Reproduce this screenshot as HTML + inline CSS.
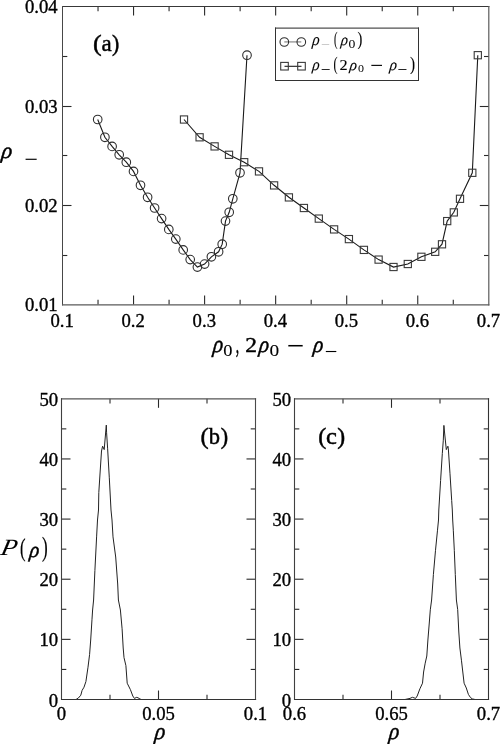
<!DOCTYPE html>
<html><head><meta charset="utf-8"><title>plot</title>
<style>
html,body{margin:0;padding:0;background:#fff;}
body{width:500px;height:744px;overflow:hidden;}
svg{display:block;}
text{font-family:"Liberation Serif",serif;}
.t{font-size:18.7px;fill:#000;stroke:#000;stroke-width:0.35px;}
</style></head><body>
<svg width="500" height="744" viewBox="0 0 500 744">
<rect x="0" y="0" width="500" height="744" fill="#fff"/>
<line x1="98.03" y1="304.6" x2="98.03" y2="299.8" stroke="#2a2a2a" stroke-width="1.1"/><line x1="98.03" y1="6.5" x2="98.03" y2="11.3" stroke="#2a2a2a" stroke-width="1.1"/>
<line x1="133.55" y1="304.6" x2="133.55" y2="295.6" stroke="#2a2a2a" stroke-width="1.1"/><line x1="133.55" y1="6.5" x2="133.55" y2="15.5" stroke="#2a2a2a" stroke-width="1.1"/>
<line x1="169.07" y1="304.6" x2="169.07" y2="299.8" stroke="#2a2a2a" stroke-width="1.1"/><line x1="169.07" y1="6.5" x2="169.07" y2="11.3" stroke="#2a2a2a" stroke-width="1.1"/>
<line x1="204.60" y1="304.6" x2="204.60" y2="295.6" stroke="#2a2a2a" stroke-width="1.1"/><line x1="204.60" y1="6.5" x2="204.60" y2="15.5" stroke="#2a2a2a" stroke-width="1.1"/>
<line x1="240.12" y1="304.6" x2="240.12" y2="299.8" stroke="#2a2a2a" stroke-width="1.1"/><line x1="240.12" y1="6.5" x2="240.12" y2="11.3" stroke="#2a2a2a" stroke-width="1.1"/>
<line x1="275.65" y1="304.6" x2="275.65" y2="295.6" stroke="#2a2a2a" stroke-width="1.1"/><line x1="275.65" y1="6.5" x2="275.65" y2="15.5" stroke="#2a2a2a" stroke-width="1.1"/>
<line x1="311.18" y1="304.6" x2="311.18" y2="299.8" stroke="#2a2a2a" stroke-width="1.1"/><line x1="311.18" y1="6.5" x2="311.18" y2="11.3" stroke="#2a2a2a" stroke-width="1.1"/>
<line x1="346.70" y1="304.6" x2="346.70" y2="295.6" stroke="#2a2a2a" stroke-width="1.1"/><line x1="346.70" y1="6.5" x2="346.70" y2="15.5" stroke="#2a2a2a" stroke-width="1.1"/>
<line x1="382.23" y1="304.6" x2="382.23" y2="299.8" stroke="#2a2a2a" stroke-width="1.1"/><line x1="382.23" y1="6.5" x2="382.23" y2="11.3" stroke="#2a2a2a" stroke-width="1.1"/>
<line x1="417.75" y1="304.6" x2="417.75" y2="295.6" stroke="#2a2a2a" stroke-width="1.1"/><line x1="417.75" y1="6.5" x2="417.75" y2="15.5" stroke="#2a2a2a" stroke-width="1.1"/>
<line x1="453.28" y1="304.6" x2="453.28" y2="299.8" stroke="#2a2a2a" stroke-width="1.1"/><line x1="453.28" y1="6.5" x2="453.28" y2="11.3" stroke="#2a2a2a" stroke-width="1.1"/>
<line x1="62.5" y1="255.5" x2="67.3" y2="255.5" stroke="#2a2a2a" stroke-width="1.1"/><line x1="488.8" y1="255.5" x2="484.0" y2="255.5" stroke="#2a2a2a" stroke-width="1.1"/>
<line x1="62.5" y1="205.5" x2="71.5" y2="205.5" stroke="#2a2a2a" stroke-width="1.1"/><line x1="488.8" y1="205.5" x2="479.8" y2="205.5" stroke="#2a2a2a" stroke-width="1.1"/>
<line x1="62.5" y1="155.5" x2="67.3" y2="155.5" stroke="#2a2a2a" stroke-width="1.1"/><line x1="488.8" y1="155.5" x2="484.0" y2="155.5" stroke="#2a2a2a" stroke-width="1.1"/>
<line x1="62.5" y1="106.5" x2="71.5" y2="106.5" stroke="#2a2a2a" stroke-width="1.1"/><line x1="488.8" y1="106.5" x2="479.8" y2="106.5" stroke="#2a2a2a" stroke-width="1.1"/>
<line x1="62.5" y1="56.5" x2="67.3" y2="56.5" stroke="#2a2a2a" stroke-width="1.1"/><line x1="488.8" y1="56.5" x2="484.0" y2="56.5" stroke="#2a2a2a" stroke-width="1.1"/>
<line x1="62" y1="6.5" x2="489.4" y2="6.5" stroke="#383838" stroke-width="1.0"/>
<line x1="62.5" y1="6" x2="62.5" y2="305.4" stroke="#474747" stroke-width="1.0"/>
<line x1="488.8" y1="6" x2="488.8" y2="305.4" stroke="#5a5a5a" stroke-width="1.2"/>
<line x1="62" y1="304.9" x2="489.4" y2="304.9" stroke="#5a5a5a" stroke-width="1.3"/>
<text class="t" x="62.2" y="326.6" text-anchor="middle">0.1</text>
<text class="t" x="133.2" y="326.6" text-anchor="middle">0.2</text>
<text class="t" x="204.3" y="326.6" text-anchor="middle">0.3</text>
<text class="t" x="275.4" y="326.6" text-anchor="middle">0.4</text>
<text class="t" x="346.4" y="326.6" text-anchor="middle">0.5</text>
<text class="t" x="417.4" y="326.6" text-anchor="middle">0.6</text>
<text class="t" x="488.5" y="326.6" text-anchor="middle">0.7</text>
<text class="t" x="57.6" y="310.8" text-anchor="end">0.01</text>
<text class="t" x="57.6" y="211.7" text-anchor="end">0.02</text>
<text class="t" x="57.6" y="112.7" text-anchor="end">0.03</text>
<text class="t" x="57.6" y="12.7" text-anchor="end">0.04</text>
<polyline points="97.7,119.5 104.9,137.3 112.1,146.4 119.2,154.8 126.3,162.2 133.5,171.4 140.5,185.3 147.6,197.3 154.6,208.0 161.6,218.6 168.8,229.4 175.8,239.1 183.2,249.9 190.2,259.6 197.4,267.1 204.6,264.1 211.4,256.8 218.6,251.8 222.2,244.2 225.5,221.1 229.2,212.3 232.8,198.8 240.0,172.8 247.0,55.2" fill="none" stroke="#1a1a1a" stroke-width="1.1"/>
<polyline points="184.0,119.5 199.6,137.3 214.6,146.4 229.0,154.8 244.2,162.2 259.0,171.4 274.1,185.3 288.9,197.3 303.9,208.0 318.8,218.6 334.1,229.4 348.9,239.1 363.9,249.9 378.6,259.6 393.5,267.1 407.8,264.1 421.4,256.8 435.2,251.8 442.0,244.2 447.2,221.1 453.8,212.3 460.0,198.8 472.3,172.8 477.8,55.2" fill="none" stroke="#1a1a1a" stroke-width="1.1"/>
<circle cx="97.7" cy="119.5" r="4.3" fill="none" stroke="#2e2e2e" stroke-width="1.1"/><circle cx="104.9" cy="137.3" r="4.3" fill="none" stroke="#2e2e2e" stroke-width="1.1"/><circle cx="112.1" cy="146.4" r="4.3" fill="none" stroke="#2e2e2e" stroke-width="1.1"/><circle cx="119.2" cy="154.8" r="4.3" fill="none" stroke="#2e2e2e" stroke-width="1.1"/><circle cx="126.3" cy="162.2" r="4.3" fill="none" stroke="#2e2e2e" stroke-width="1.1"/><circle cx="133.5" cy="171.4" r="4.3" fill="none" stroke="#2e2e2e" stroke-width="1.1"/><circle cx="140.5" cy="185.3" r="4.3" fill="none" stroke="#2e2e2e" stroke-width="1.1"/><circle cx="147.6" cy="197.3" r="4.3" fill="none" stroke="#2e2e2e" stroke-width="1.1"/><circle cx="154.6" cy="208.0" r="4.3" fill="none" stroke="#2e2e2e" stroke-width="1.1"/><circle cx="161.6" cy="218.6" r="4.3" fill="none" stroke="#2e2e2e" stroke-width="1.1"/><circle cx="168.8" cy="229.4" r="4.3" fill="none" stroke="#2e2e2e" stroke-width="1.1"/><circle cx="175.8" cy="239.1" r="4.3" fill="none" stroke="#2e2e2e" stroke-width="1.1"/><circle cx="183.2" cy="249.9" r="4.3" fill="none" stroke="#2e2e2e" stroke-width="1.1"/><circle cx="190.2" cy="259.6" r="4.3" fill="none" stroke="#2e2e2e" stroke-width="1.1"/><circle cx="197.4" cy="267.1" r="4.3" fill="none" stroke="#2e2e2e" stroke-width="1.1"/><circle cx="204.6" cy="264.1" r="4.3" fill="none" stroke="#2e2e2e" stroke-width="1.1"/><circle cx="211.4" cy="256.8" r="4.3" fill="none" stroke="#2e2e2e" stroke-width="1.1"/><circle cx="218.6" cy="251.8" r="4.3" fill="none" stroke="#2e2e2e" stroke-width="1.1"/><circle cx="222.2" cy="244.2" r="4.3" fill="none" stroke="#2e2e2e" stroke-width="1.1"/><circle cx="225.5" cy="221.1" r="4.3" fill="none" stroke="#2e2e2e" stroke-width="1.1"/><circle cx="229.2" cy="212.3" r="4.3" fill="none" stroke="#2e2e2e" stroke-width="1.1"/><circle cx="232.8" cy="198.8" r="4.3" fill="none" stroke="#2e2e2e" stroke-width="1.1"/><circle cx="240.0" cy="172.8" r="4.3" fill="none" stroke="#2e2e2e" stroke-width="1.1"/><circle cx="247.0" cy="55.2" r="4.3" fill="none" stroke="#2e2e2e" stroke-width="1.1"/>
<rect x="180.4" y="115.9" width="7.2" height="7.2" fill="none" stroke="#3a3a3a" stroke-width="1.1"/><rect x="196.0" y="133.7" width="7.2" height="7.2" fill="none" stroke="#3a3a3a" stroke-width="1.1"/><rect x="211.0" y="142.8" width="7.2" height="7.2" fill="none" stroke="#3a3a3a" stroke-width="1.1"/><rect x="225.4" y="151.2" width="7.2" height="7.2" fill="none" stroke="#3a3a3a" stroke-width="1.1"/><rect x="240.6" y="158.6" width="7.2" height="7.2" fill="none" stroke="#3a3a3a" stroke-width="1.1"/><rect x="255.4" y="167.8" width="7.2" height="7.2" fill="none" stroke="#3a3a3a" stroke-width="1.1"/><rect x="270.5" y="181.8" width="7.2" height="7.2" fill="none" stroke="#3a3a3a" stroke-width="1.1"/><rect x="285.29999999999995" y="193.8" width="7.2" height="7.2" fill="none" stroke="#3a3a3a" stroke-width="1.1"/><rect x="300.29999999999995" y="204.4" width="7.2" height="7.2" fill="none" stroke="#3a3a3a" stroke-width="1.1"/><rect x="315.2" y="215.0" width="7.2" height="7.2" fill="none" stroke="#3a3a3a" stroke-width="1.1"/><rect x="330.5" y="225.8" width="7.2" height="7.2" fill="none" stroke="#3a3a3a" stroke-width="1.1"/><rect x="345.29999999999995" y="235.5" width="7.2" height="7.2" fill="none" stroke="#3a3a3a" stroke-width="1.1"/><rect x="360.29999999999995" y="246.3" width="7.2" height="7.2" fill="none" stroke="#3a3a3a" stroke-width="1.1"/><rect x="375.0" y="256.0" width="7.2" height="7.2" fill="none" stroke="#3a3a3a" stroke-width="1.1"/><rect x="389.9" y="263.4" width="7.2" height="7.2" fill="none" stroke="#3a3a3a" stroke-width="1.1"/><rect x="404.2" y="260.4" width="7.2" height="7.2" fill="none" stroke="#3a3a3a" stroke-width="1.1"/><rect x="417.79999999999995" y="253.2" width="7.2" height="7.2" fill="none" stroke="#3a3a3a" stroke-width="1.1"/><rect x="431.59999999999997" y="248.2" width="7.2" height="7.2" fill="none" stroke="#3a3a3a" stroke-width="1.1"/><rect x="438.4" y="240.7" width="7.2" height="7.2" fill="none" stroke="#3a3a3a" stroke-width="1.1"/><rect x="443.59999999999997" y="217.5" width="7.2" height="7.2" fill="none" stroke="#3a3a3a" stroke-width="1.1"/><rect x="450.2" y="208.8" width="7.2" height="7.2" fill="none" stroke="#3a3a3a" stroke-width="1.1"/><rect x="456.4" y="195.2" width="7.2" height="7.2" fill="none" stroke="#3a3a3a" stroke-width="1.1"/><rect x="468.7" y="169.2" width="7.2" height="7.2" fill="none" stroke="#3a3a3a" stroke-width="1.1"/><rect x="474.2" y="51.6" width="7.2" height="7.2" fill="none" stroke="#3a3a3a" stroke-width="1.1"/>
<line x1="275" y1="28.0" x2="419" y2="28.0" stroke="#505050" stroke-width="1.25"/><line x1="275" y1="80.5" x2="419" y2="80.5" stroke="#333" stroke-width="1.0"/><line x1="275.5" y1="27.5" x2="275.5" y2="81" stroke="#333" stroke-width="1.0"/><line x1="418.5" y1="27.5" x2="418.5" y2="81" stroke="#333" stroke-width="1.0"/>
<line x1="284.3" y1="41.9" x2="301.3" y2="41.9" stroke="#999" stroke-width="1.4"/><circle cx="284.3" cy="42" r="4.3" fill="none" stroke="#2e2e2e" stroke-width="1.1"/><circle cx="301.3" cy="42" r="4.3" fill="none" stroke="#2e2e2e" stroke-width="1.1"/>
<line x1="284.5" y1="66.3" x2="301.5" y2="66.3" stroke="#1a1a1a" stroke-width="1.1"/><rect x="280.7" y="62.4" width="7.6" height="7.6" fill="none" stroke="#3a3a3a" stroke-width="1.1"/><rect x="297.7" y="62.4" width="7.6" height="7.6" fill="none" stroke="#3a3a3a" stroke-width="1.1"/>
<text x="0" y="0" transform="matrix(0.8791,0,-0.1055,1,312.11,45.43)" style="font-size:17.01px;font-style:italic;" fill="#000" stroke="#000" stroke-width="0.12">ρ</text>
<text x="321.06" y="50.08" style="font-size:15.90px;" fill="#c0c0c0">−</text>
<text x="0" y="0" transform="matrix(0.5296,0,-0.0000,1,333.99,45.22)" style="font-size:19.85px;" fill="#000" stroke="#000" stroke-width="0.12">(</text>
<text x="0" y="0" transform="matrix(0.9122,0,-0.1095,1,340.59,45.35)" style="font-size:15.98px;font-style:italic;" fill="#000" stroke="#000" stroke-width="0.12">ρ</text>
<text x="0" y="0" transform="matrix(1.0864,0,-0.0000,1,348.53,47.93)" style="font-size:12.60px;" fill="#000">0</text>
<text x="0" y="0" transform="matrix(0.7257,0,-0.0000,1,357.49,45.22)" style="font-size:19.85px;" fill="#000" stroke="#000" stroke-width="0.12">)</text>
<text x="0" y="0" transform="matrix(0.9024,0,-0.1083,1,312.11,69.92)" style="font-size:16.57px;font-style:italic;" fill="#000" stroke="#000" stroke-width="0.12">ρ</text>
<text x="320.69" y="75.21" style="font-size:17.19px;" fill="#000">−</text>
<text x="0" y="0" transform="matrix(0.6254,0,-0.0000,1,333.62,70.04)" style="font-size:19.30px;" fill="#000" stroke="#000" stroke-width="0.12">(</text>
<text x="0" y="0" transform="matrix(1.1183,0,-0.0000,1,339.54,69.85)" style="font-size:14.50px;" fill="#000" stroke="#000" stroke-width="0.12">2</text>
<text x="0" y="0" transform="matrix(0.9928,0,-0.1191,1,349.32,70.00)" style="font-size:15.25px;font-style:italic;" fill="#000" stroke="#000" stroke-width="0.12">ρ</text>
<text x="0" y="0" transform="matrix(1.1768,0,-0.0000,1,357.99,72.35)" style="font-size:10.23px;" fill="#000">0</text>
<text x="370.30" y="73.03" style="font-size:22.99px;" fill="#000">−</text>
<text x="0" y="0" transform="matrix(0.9473,0,-0.1137,1,389.32,70.05)" style="font-size:15.98px;font-style:italic;" fill="#000" stroke="#000" stroke-width="0.12">ρ</text>
<text x="397.48" y="75.28" style="font-size:17.41px;" fill="#000">−</text>
<text x="0" y="0" transform="matrix(0.7868,0,-0.0000,1,410.06,70.04)" style="font-size:19.30px;" fill="#000" stroke="#000" stroke-width="0.12">)</text>
<text x="0" y="0" transform="matrix(1.1482,0,-0.0000,1,93.00,51.01)" style="font-size:22.72px;" fill="#000" stroke="#000" stroke-width="0.45">(</text>
<text x="0" y="0" transform="matrix(0.9852,0,-0.0000,1,101.44,51.12)" style="font-size:23.38px;" fill="#000" stroke="#000" stroke-width="0.45">a</text>
<text x="0" y="0" transform="matrix(0.9597,0,-0.0000,1,112.05,51.01)" style="font-size:22.72px;" fill="#000" stroke="#000" stroke-width="0.45">)</text>
<text x="0" y="0" transform="matrix(0.9831,0,-0.1180,1,0.97,158.47)" style="font-size:22.43px;font-style:italic;" fill="#000" stroke="#000" stroke-width="0.45">ρ</text>
<text x="24.56" y="166.62" style="font-size:23.85px;" fill="#000">−</text>
<text x="0" y="0" transform="matrix(0.8759,0,-0.1051,1,212.52,352.36)" style="font-size:23.90px;font-style:italic;" fill="#000" stroke="#000" stroke-width="0.45">ρ</text>
<text x="0" y="0" transform="matrix(1.0524,0,-0.0000,1,223.25,355.88)" style="font-size:17.49px;" fill="#000" stroke="#000" stroke-width="0.1">0</text>
<text x="0" y="0" transform="matrix(0.4999,0,-0.0000,1,235.74,352.72)" style="font-size:26.87px;" fill="#000" stroke="#000" stroke-width="0.45">,</text>
<text x="0" y="0" transform="matrix(1.0933,0,-0.0000,1,245.22,351.95)" style="font-size:21.45px;" fill="#000" stroke="#000" stroke-width="0.45">2</text>
<text x="0" y="0" transform="matrix(0.9129,0,-0.1095,1,258.61,352.31)" style="font-size:22.72px;font-style:italic;" fill="#000" stroke="#000" stroke-width="0.45">ρ</text>
<text x="0" y="0" transform="matrix(1.1159,0,-0.0000,1,269.41,355.88)" style="font-size:17.34px;" fill="#000" stroke="#000" stroke-width="0.1">0</text>
<text x="286.71" y="355.87" style="font-size:30.95px;" fill="#000">−</text>
<text x="0" y="0" transform="matrix(0.9129,0,-0.1095,1,312.81,352.31)" style="font-size:22.72px;font-style:italic;" fill="#000" stroke="#000" stroke-width="0.45">ρ</text>
<text x="324.63" y="359.09" style="font-size:22.56px;" fill="#000">−</text>
<text x="0" y="0" transform="matrix(1.0797,0,-0.0000,1,200.47,443.81)" style="font-size:22.72px;" fill="#000" stroke="#000" stroke-width="0.45">(</text>
<text x="0" y="0" transform="matrix(1.0155,0,-0.0000,1,208.85,444.23)" style="font-size:22.17px;" fill="#000" stroke="#000" stroke-width="0.45">b</text>
<text x="0" y="0" transform="matrix(0.9769,0,-0.0000,1,220.73,443.81)" style="font-size:22.72px;" fill="#000" stroke="#000" stroke-width="0.45">)</text>
<text x="0" y="0" transform="matrix(1.0626,0,-0.0000,1,318.19,443.81)" style="font-size:22.72px;" fill="#000" stroke="#000" stroke-width="0.45">(</text>
<text x="0" y="0" transform="matrix(1.0260,0,-0.0000,1,325.92,444.22)" style="font-size:23.91px;" fill="#000" stroke="#000" stroke-width="0.45">c</text>
<text x="0" y="0" transform="matrix(1.0454,0,-0.0000,1,337.18,443.81)" style="font-size:22.72px;" fill="#000" stroke="#000" stroke-width="0.45">)</text>
<text x="0" y="0" transform="matrix(1.1014,0,-0.2203,1,-0.01,555.15)" style="font-size:23.37px;font-style:italic;" fill="#000" stroke="#000" stroke-width="0.1">P</text>
<text x="0" y="0" transform="matrix(0.6378,0,-0.0000,1,20.11,556.06)" style="font-size:26.25px;" fill="#000" stroke="#000" stroke-width="0.2">(</text>
<text x="0" y="0" transform="matrix(0.9302,0,-0.1116,1,28.88,556.53)" style="font-size:21.70px;font-style:italic;" fill="#000" stroke="#000" stroke-width="0.45">ρ</text>
<text x="0" y="0" transform="matrix(0.6527,0,-0.0000,1,42.00,556.06)" style="font-size:26.25px;" fill="#000" stroke="#000" stroke-width="0.2">)</text>
<text x="0" y="0" transform="matrix(0.9184,0,-0.1102,1,154.25,739.13)" style="font-size:23.60px;font-style:italic;" fill="#000" stroke="#000" stroke-width="0.45">ρ</text>
<text x="0" y="0" transform="matrix(0.8947,0,-0.1074,1,388.43,739.13)" style="font-size:23.60px;font-style:italic;" fill="#000" stroke="#000" stroke-width="0.45">ρ</text>
<line x1="110.00" y1="699.5" x2="110.00" y2="694.7" stroke="#2a2a2a" stroke-width="1.1"/><line x1="110.00" y1="398.8" x2="110.00" y2="403.6" stroke="#2a2a2a" stroke-width="1.1"/>
<line x1="158.50" y1="699.5" x2="158.50" y2="690.5" stroke="#2a2a2a" stroke-width="1.1"/><line x1="158.50" y1="398.8" x2="158.50" y2="407.8" stroke="#2a2a2a" stroke-width="1.1"/>
<line x1="207.00" y1="699.5" x2="207.00" y2="694.7" stroke="#2a2a2a" stroke-width="1.1"/><line x1="207.00" y1="398.8" x2="207.00" y2="403.6" stroke="#2a2a2a" stroke-width="1.1"/>
<line x1="61.5" y1="669.43" x2="66.3" y2="669.43" stroke="#2a2a2a" stroke-width="1.1"/><line x1="255.5" y1="669.43" x2="250.7" y2="669.43" stroke="#2a2a2a" stroke-width="1.1"/>
<line x1="61.5" y1="639.36" x2="70.5" y2="639.36" stroke="#2a2a2a" stroke-width="1.1"/><line x1="255.5" y1="639.36" x2="246.5" y2="639.36" stroke="#2a2a2a" stroke-width="1.1"/>
<line x1="61.5" y1="609.29" x2="66.3" y2="609.29" stroke="#2a2a2a" stroke-width="1.1"/><line x1="255.5" y1="609.29" x2="250.7" y2="609.29" stroke="#2a2a2a" stroke-width="1.1"/>
<line x1="61.5" y1="579.22" x2="70.5" y2="579.22" stroke="#2a2a2a" stroke-width="1.1"/><line x1="255.5" y1="579.22" x2="246.5" y2="579.22" stroke="#2a2a2a" stroke-width="1.1"/>
<line x1="61.5" y1="549.15" x2="66.3" y2="549.15" stroke="#2a2a2a" stroke-width="1.1"/><line x1="255.5" y1="549.15" x2="250.7" y2="549.15" stroke="#2a2a2a" stroke-width="1.1"/>
<line x1="61.5" y1="519.08" x2="70.5" y2="519.08" stroke="#2a2a2a" stroke-width="1.1"/><line x1="255.5" y1="519.08" x2="246.5" y2="519.08" stroke="#2a2a2a" stroke-width="1.1"/>
<line x1="61.5" y1="489.01" x2="66.3" y2="489.01" stroke="#2a2a2a" stroke-width="1.1"/><line x1="255.5" y1="489.01" x2="250.7" y2="489.01" stroke="#2a2a2a" stroke-width="1.1"/>
<line x1="61.5" y1="458.94" x2="70.5" y2="458.94" stroke="#2a2a2a" stroke-width="1.1"/><line x1="255.5" y1="458.94" x2="246.5" y2="458.94" stroke="#2a2a2a" stroke-width="1.1"/>
<line x1="61.5" y1="428.87" x2="66.3" y2="428.87" stroke="#2a2a2a" stroke-width="1.1"/><line x1="255.5" y1="428.87" x2="250.7" y2="428.87" stroke="#2a2a2a" stroke-width="1.1"/>
<polyline points="61.0,699.5 76.0,699.5 78.4,698.0 80.8,695.2 82.1,690.4 84.0,687.2 85.9,681.6 88.0,667.2 89.6,654.4 90.7,640.0 92.0,619.2 92.6,610.0 93.6,600.0 94.9,570.5 96.6,536.9 97.5,520.0 98.5,510.0 98.8,492.6 100.2,471.0 101.5,451.0 102.6,446.2 104.2,449.6 106.3,425.1 106.6,432.8 107.6,448.2 109.3,477.8 111.0,510.0 112.0,520.0 113.0,536.9 115.7,557.0 117.7,584.0 118.4,600.0 120.4,610.0 122.1,628.8 123.2,648.0 124.0,657.6 125.9,665.6 127.2,683.2 130.4,689.6 132.8,696.0 134.4,698.4 136.8,697.3 139.2,698.4 141.0,699.5 255.0,699.5" fill="none" stroke="#222" stroke-width="1.0"/>
<line x1="61.0" y1="398.8" x2="256.1" y2="398.8" stroke="#555" stroke-width="1.3"/><line x1="61.5" y1="398.3" x2="61.5" y2="700.0" stroke="#404040" stroke-width="1.1"/><line x1="255.5" y1="398.3" x2="255.5" y2="700.0" stroke="#4a4a4a" stroke-width="1.1"/><line x1="61.0" y1="699.5" x2="256.1" y2="699.5" stroke="#333" stroke-width="1.1"/>
<text class="t" x="61.5" y="719.6" text-anchor="middle">0</text>
<text class="t" x="158.5" y="719.6" text-anchor="middle">0.05</text>
<text class="t" x="255.5" y="719.6" text-anchor="middle">0.1</text>
<text class="t" x="58.1" y="706.5" text-anchor="end">0</text>
<text class="t" x="58.1" y="646.4" text-anchor="end">10</text>
<text class="t" x="58.1" y="586.2" text-anchor="end">20</text>
<text class="t" x="58.1" y="526.1" text-anchor="end">30</text>
<text class="t" x="58.1" y="465.9" text-anchor="end">40</text>
<text class="t" x="58.1" y="405.8" text-anchor="end">50</text>
<line x1="343.00" y1="699.5" x2="343.00" y2="694.7" stroke="#2a2a2a" stroke-width="1.1"/><line x1="343.00" y1="398.8" x2="343.00" y2="403.6" stroke="#2a2a2a" stroke-width="1.1"/>
<line x1="391.50" y1="699.5" x2="391.50" y2="690.5" stroke="#2a2a2a" stroke-width="1.1"/><line x1="391.50" y1="398.8" x2="391.50" y2="407.8" stroke="#2a2a2a" stroke-width="1.1"/>
<line x1="440.00" y1="699.5" x2="440.00" y2="694.7" stroke="#2a2a2a" stroke-width="1.1"/><line x1="440.00" y1="398.8" x2="440.00" y2="403.6" stroke="#2a2a2a" stroke-width="1.1"/>
<line x1="294.5" y1="669.43" x2="299.3" y2="669.43" stroke="#2a2a2a" stroke-width="1.1"/><line x1="488.5" y1="669.43" x2="483.7" y2="669.43" stroke="#2a2a2a" stroke-width="1.1"/>
<line x1="294.5" y1="639.36" x2="303.5" y2="639.36" stroke="#2a2a2a" stroke-width="1.1"/><line x1="488.5" y1="639.36" x2="479.5" y2="639.36" stroke="#2a2a2a" stroke-width="1.1"/>
<line x1="294.5" y1="609.29" x2="299.3" y2="609.29" stroke="#2a2a2a" stroke-width="1.1"/><line x1="488.5" y1="609.29" x2="483.7" y2="609.29" stroke="#2a2a2a" stroke-width="1.1"/>
<line x1="294.5" y1="579.22" x2="303.5" y2="579.22" stroke="#2a2a2a" stroke-width="1.1"/><line x1="488.5" y1="579.22" x2="479.5" y2="579.22" stroke="#2a2a2a" stroke-width="1.1"/>
<line x1="294.5" y1="549.15" x2="299.3" y2="549.15" stroke="#2a2a2a" stroke-width="1.1"/><line x1="488.5" y1="549.15" x2="483.7" y2="549.15" stroke="#2a2a2a" stroke-width="1.1"/>
<line x1="294.5" y1="519.08" x2="303.5" y2="519.08" stroke="#2a2a2a" stroke-width="1.1"/><line x1="488.5" y1="519.08" x2="479.5" y2="519.08" stroke="#2a2a2a" stroke-width="1.1"/>
<line x1="294.5" y1="489.01" x2="299.3" y2="489.01" stroke="#2a2a2a" stroke-width="1.1"/><line x1="488.5" y1="489.01" x2="483.7" y2="489.01" stroke="#2a2a2a" stroke-width="1.1"/>
<line x1="294.5" y1="458.94" x2="303.5" y2="458.94" stroke="#2a2a2a" stroke-width="1.1"/><line x1="488.5" y1="458.94" x2="479.5" y2="458.94" stroke="#2a2a2a" stroke-width="1.1"/>
<line x1="294.5" y1="428.87" x2="299.3" y2="428.87" stroke="#2a2a2a" stroke-width="1.1"/><line x1="488.5" y1="428.87" x2="483.7" y2="428.87" stroke="#2a2a2a" stroke-width="1.1"/>
<polyline points="294.0,699.5 405.0,699.5 410.0,698.4 412.4,697.3 415.6,698.4 417.2,696.0 419.9,688.8 422.5,683.2 423.6,672.0 425.2,663.2 426.8,656.0 427.9,640.0 429.2,624.0 430.3,609.8 431.6,600.0 433.4,574.5 435.5,550.3 437.5,530.2 438.5,520.0 438.8,510.0 440.6,480.5 442.3,453.6 443.3,440.2 443.9,425.4 444.5,432.0 446.3,449.6 447.9,446.2 448.3,448.2 450.0,473.8 451.7,500.6 452.3,510.0 452.7,520.0 453.3,530.2 454.3,550.3 455.3,574.5 456.4,600.0 457.7,609.6 458.8,632.0 459.9,648.0 461.5,660.8 462.8,672.0 464.1,683.2 466.3,688.0 468.4,694.4 470.5,697.6 472.4,698.9 475.0,699.5 488.0,699.5" fill="none" stroke="#222" stroke-width="1.0"/>
<line x1="294.0" y1="398.8" x2="489.1" y2="398.8" stroke="#555" stroke-width="1.3"/><line x1="294.5" y1="398.3" x2="294.5" y2="700.0" stroke="#404040" stroke-width="1.1"/><line x1="488.5" y1="398.3" x2="488.5" y2="700.0" stroke="#333" stroke-width="1.1"/><line x1="294.0" y1="699.5" x2="489.1" y2="699.5" stroke="#333" stroke-width="1.1"/>
<text class="t" x="294.5" y="719.6" text-anchor="middle">0.6</text>
<text class="t" x="391.5" y="719.6" text-anchor="middle">0.65</text>
<text class="t" x="488.5" y="719.6" text-anchor="middle">0.7</text>
<text class="t" x="291.1" y="706.5" text-anchor="end">0</text>
<text class="t" x="291.1" y="646.4" text-anchor="end">10</text>
<text class="t" x="291.1" y="586.2" text-anchor="end">20</text>
<text class="t" x="291.1" y="526.1" text-anchor="end">30</text>
<text class="t" x="291.1" y="465.9" text-anchor="end">40</text>
<text class="t" x="291.1" y="405.8" text-anchor="end">50</text>
</svg>
</body></html>
